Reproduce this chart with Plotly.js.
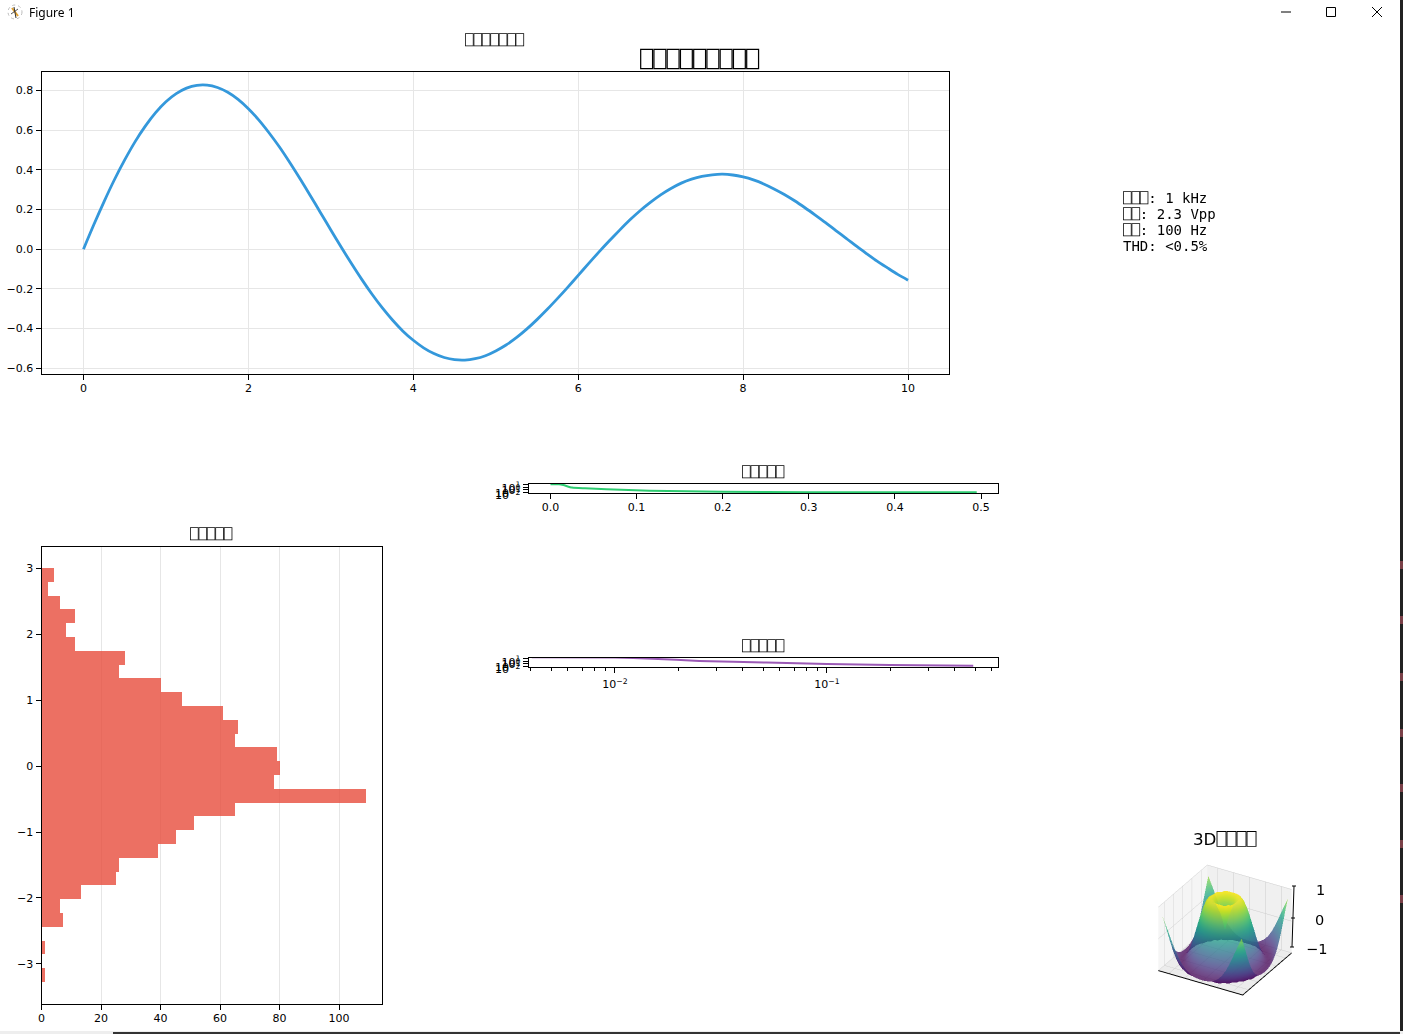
<!DOCTYPE html>
<html><head><meta charset="utf-8">
<script src="https://cdn.plot.ly/plotly-3.0.1.min.js"></script>
<style>html,body{margin:0;padding:0;background:#fff;overflow:hidden}#g{width:1403px;height:1034px}</style>
</head><body><div id="g"></div>
<script>
// Waveform
const waveX=[0,0.125,0.25,0.375,0.5,0.625,0.75,0.875,1,1.125,1.25,1.375,1.5,1.625,1.75,1.875,2,2.125,2.25,2.375,2.5,2.625,2.75,2.875,3,3.125,3.25,3.375,3.5,3.625,3.75,3.875,4,4.125,4.25,4.375,4.5,4.625,4.75,4.875,5,5.125,5.25,5.375,5.5,5.625,5.75,5.875,6,6.125,6.25,6.375,6.5,6.625,6.75,6.875,7,7.125,7.25,7.375,7.5,7.625,7.75,7.875,8,8.125,8.25,8.375,8.5,8.625,8.75,8.875,9,9.125,9.25,9.375,9.5,9.625,9.75,9.875,10];
const waveY=[0,0.123,0.24,0.35,0.45,0.541,0.62,0.688,0.743,0.784,0.812,0.826,0.827,0.815,0.791,0.755,0.708,0.652,0.587,0.516,0.438,0.356,0.271,0.184,0.097,0.011,-0.072,-0.152,-0.227,-0.296,-0.358,-0.413,-0.459,-0.497,-0.526,-0.546,-0.557,-0.559,-0.552,-0.537,-0.513,-0.483,-0.446,-0.403,-0.355,-0.303,-0.248,-0.191,-0.132,-0.073,-0.015,0.041,0.095,0.147,0.194,0.236,0.274,0.306,0.333,0.353,0.367,0.375,0.378,0.374,0.364,0.349,0.329,0.304,0.276,0.244,0.209,0.172,0.134,0.094,0.055,0.015,-0.023,-0.06,-0.094,-0.127,-0.156];
// Spectrum
const specF=[0,0.01,0.015,0.025,0.04,0.065,0.115,0.2,0.3,0.4,0.495];
const specA=[15,17,8,0.8,0.4,0.19,0.052,0.021,0.013,0.0115,0.0115];
// Low-frequency log plot
const bodeF=[0.00405,0.01,0.015,0.025,0.052,0.1,0.198,0.49];
const bodeA=[40,33,11.4,1.5,0.32,0.1,0.038,0.021];
// Histogram
const binCenters=[2.90735,2.69805,2.48875,2.27945,2.07015,1.86085,1.65155,1.44225,1.23295,1.02365,0.81435,0.60505,0.39575,0.18645,-0.02285,-0.23215,-0.44145,-0.65075,-0.86005,-1.06935,-1.27865,-1.48795,-1.69725,-1.90655,-2.11585,-2.32515,-2.53445,-2.74375,-2.95305,-3.16235];
const binCounts=[4,2,6,11,8,11,28,26,40,47,61,66,65,79,80,78,109,65,51,45,39,26,25,13,6,7,0,1,0,1];
// Surface
const surfAxis=[-5,-4.5,-4,-3.5,-3,-2.5,-2,-1.5,-1,-0.5,0,0.5,1,1.5,2,2.5,3,3.5,4,4.5,5];
const surfZ=[
[.71,.43,.12,-.18,-.44,-.64,-.78,-.87,-.93,-.95,-.96,-.95,-.93,-.87,-.78,-.64,-.44,-.18,.12,.43,.71],
[.43,.08,-.26,-.55,-.77,-.91,-.98,-1,-.99,-.98,-.98,-.98,-.99,-1,-.98,-.91,-.77,-.55,-.26,.08,.43],
[.12,-.26,-.59,-.83,-.96,-1,-.97,-.91,-.83,-.78,-.76,-.78,-.83,-.91,-.97,-1,-.96,-.83,-.59,-.26,.12],
[-.18,-.55,-.83,-.97,-.99,-.92,-.78,-.62,-.48,-.38,-.35,-.38,-.48,-.62,-.78,-.92,-.99,-.97,-.83,-.55,-.18],
[-.44,-.77,-.96,-.99,-.89,-.69,-.45,-.21,-.02,.1,.14,.1,-.02,-.21,-.45,-.69,-.89,-.99,-.96,-.77,-.44],
[-.64,-.91,-1,-.92,-.69,-.38,-.06,.22,.43,.56,.6,.56,.43,.22,-.06,-.38,-.69,-.92,-1,-.91,-.64],
[-.78,-.98,-.97,-.78,-.45,-.06,.31,.6,.79,.88,.91,.88,.79,.6,.31,-.06,-.45,-.78,-.97,-.98,-.78],
[-.87,-1,-.91,-.62,-.21,.22,.6,.85,.97,1,1,1,.97,.85,.6,.22,-.21,-.62,-.91,-1,-.87],
[-.93,-.99,-.83,-.48,-.02,.43,.79,.97,.99,.9,.84,.9,.99,.97,.79,.43,-.02,-.48,-.83,-.99,-.93],
[-.95,-.98,-.78,-.38,.1,.56,.88,1,.9,.65,.48,.65,.9,1,.88,.56,.1,-.38,-.78,-.98,-.95],
[-.96,-.98,-.76,-.35,.14,.6,.91,1,.84,.48,0,.48,.84,1,.91,.6,.14,-.35,-.76,-.98,-.96],
[-.95,-.98,-.78,-.38,.1,.56,.88,1,.9,.65,.48,.65,.9,1,.88,.56,.1,-.38,-.78,-.98,-.95],
[-.93,-.99,-.83,-.48,-.02,.43,.79,.97,.99,.9,.84,.9,.99,.97,.79,.43,-.02,-.48,-.83,-.99,-.93],
[-.87,-1,-.91,-.62,-.21,.22,.6,.85,.97,1,1,1,.97,.85,.6,.22,-.21,-.62,-.91,-1,-.87],
[-.78,-.98,-.97,-.78,-.45,-.06,.31,.6,.79,.88,.91,.88,.79,.6,.31,-.06,-.45,-.78,-.97,-.98,-.78],
[-.64,-.91,-1,-.92,-.69,-.38,-.06,.22,.43,.56,.6,.56,.43,.22,-.06,-.38,-.69,-.92,-1,-.91,-.64],
[-.44,-.77,-.96,-.99,-.89,-.69,-.45,-.21,-.02,.1,.14,.1,-.02,-.21,-.45,-.69,-.89,-.99,-.96,-.77,-.44],
[-.18,-.55,-.83,-.97,-.99,-.92,-.78,-.62,-.48,-.38,-.35,-.38,-.48,-.62,-.78,-.92,-.99,-.97,-.83,-.55,-.18],
[.12,-.26,-.59,-.83,-.96,-1,-.97,-.91,-.83,-.78,-.76,-.78,-.83,-.91,-.97,-1,-.96,-.83,-.59,-.26,.12],
[.43,.08,-.26,-.55,-.77,-.91,-.98,-1,-.99,-.98,-.98,-.98,-.99,-1,-.98,-.91,-.77,-.55,-.26,.08,.43],
[.71,.43,.12,-.18,-.44,-.64,-.78,-.87,-.93,-.95,-.96,-.95,-.93,-.87,-.78,-.64,-.44,-.18,.12,.43,.71]];
// Text: the reference shows empty boxes where its glyphs were missing
const B='⎕';
const titleFig=B.repeat(9), titleWave=B.repeat(7), titleSpec=B.repeat(5), titleBode=B.repeat(5), titleHist=B.repeat(5);
const title3d='3D<span style="font-family:\'DejaVu Sans Mono\'">'+B.repeat(4)+'</span>';
const infoLines=[B+B+B+': 1 kHz',B+B+': 2.3 Vpp',B+B+': 100 Hz','THD: <0.5%'];
const logTickVals=[10,1,0.1,0.01], logTickText=['10<sup>1</sup>','10<sup>0</sup>','10<sup>−1</sup>','10<sup>−2</sup>'];
const zTickLabels=['1','0','−1'];

const W=1403,H=1034,px=x=>x/W,py=y=>1-y/H;
const dom=(a,b)=>[px(a),px(b)], domY=(top,bot)=>[py(bot),py(top)];
const tf={family:'DejaVu Sans',size:11,color:'#000'};
const base={showline:true,mirror:true,linecolor:'#000',linewidth:1,ticks:'outside',ticklen:5,tickwidth:1,tickcolor:'#000',tickfont:tf,zeroline:false,showgrid:false,automargin:false};
const grid={showgrid:true,gridcolor:'#e6e6e6',gridwidth:1};

const traces=[
 {type:'scatter',mode:'lines',x:waveX,y:waveY,xaxis:'x',yaxis:'y',line:{color:'#3498db',width:2.8,shape:'spline',smoothing:0.8}},
 {type:'scatter',mode:'lines',x:specF,y:specA,xaxis:'x2',yaxis:'y2',line:{color:'#2ecc71',width:2,shape:'spline',smoothing:0.5}},
 {type:'scatter',mode:'lines',x:bodeF,y:bodeA,xaxis:'x3',yaxis:'y3',line:{color:'#9b59b6',width:2,shape:'spline',smoothing:0.5}},
 {type:'bar',orientation:'h',x:binCounts,y:binCenters,width:0.2093,xaxis:'x4',yaxis:'y4',marker:{color:'rgba(231,76,60,0.8)',line:{width:0}}},
 {type:'surface',x:surfAxis,y:surfAxis,z:surfZ,scene:'scene',colorscale:'Viridis',showscale:false,opacity:.75,cmin:-1,cmax:1,
  lighting:{ambient:1,diffuse:.1,specular:0,roughness:1,fresnel:0},hoverinfo:'skip',contours:{x:{highlight:false},y:{highlight:false},z:{highlight:false}}}
];
const mono={family:'DejaVu Sans Mono',color:'#000'};
const ann=(text,x,y,size,opt={})=>Object.assign({text,xref:'paper',yref:'paper',x:px(x),y:py(y),xanchor:'center',yanchor:'middle',showarrow:false,font:Object.assign({},mono,{size})},opt);
const sans=size=>({family:'DejaVu Sans',size,color:'#000'});
const annotations=[
 ann(titleFig,699.5,59,22),ann(titleWave,495,40,14),ann(titleSpec,763,472,14),ann(titleBode,763,646,14),ann(titleHist,211,534,14),
 ann(title3d,1225,839,16.7,{font:sans(16.7)}),
 ann('Figure 1',27,12.5,12,{xanchor:'left',font:{family:'Noto Sans',size:12,color:'#000'}}),
 ann(zTickLabels[0],1320,890,14.5,{font:sans(14.5)}),ann(zTickLabels[1],1319,920,14.5,{font:sans(14.5)}),ann(zTickLabels[2],1316,949,14.5,{font:sans(14.5)})
];
infoLines.forEach((t,i)=>annotations.push(ann(t,1121,198+16*i,14,{xanchor:'left'})));
const rect=(x0,y0,x1,y1,c)=>({type:'rect',xref:'paper',yref:'paper',x0:px(x0),x1:px(x1),y0:py(y0),y1:py(y1),fillcolor:c,line:{width:0},layer:'above'});
const seg=(x0,y0,x1,y1,c='#000',w=1)=>({type:'line',xref:'paper',yref:'paper',x0:px(x0),x1:px(x1),y0:py(y0),y1:py(y1),line:{color:c,width:w},layer:'above'});
const shapes=[
 rect(1400,0,1403,1034,'#222222'),rect(0,1031,1403,1034,'#eeeeee'),rect(113,1032,1400,1034,'#333333'),
 seg(1281,12,1291,12),
 {type:'rect',xref:'paper',yref:'paper',x0:px(1326.5),x1:px(1335.5),y0:py(7.5),y1:py(16.5),line:{color:'#000',width:1},layer:'above'},
 seg(1372,7,1382,17),seg(1382,7,1372,17),
 {type:'circle',xref:'paper',yref:'paper',x0:px(8),x1:px(22),y0:py(5),y1:py(19),line:{color:'#bbbbbb',width:1,dash:'dot'},layer:'above'},
 seg(12,8,18,16,'#e0a030',2),seg(18,9,11,14,'#555555',1),seg(14,7,16,18,'#333333',1),
 seg(1294,886,1292,947),seg(1292,886,1296,886),seg(1291,918,1295,918),seg(1290,947,1294,947)
];
[565,620,677,733,788,844,899].forEach(y=>shapes.push(rect(1400,y-4,1403,y+4,'#7a4048')));

const layout={width:W,height:H,margin:{l:0,r:0,t:0,b:0},paper_bgcolor:'#fff',plot_bgcolor:'#fff',showlegend:false,hovermode:false,bargap:0,annotations,shapes,
 xaxis:Object.assign({},base,grid,{domain:dom(41.5,949),range:[-0.509,10.497],tickvals:[0,2,4,6,8,10],ticklabelstandoff:-1,anchor:'y'}),
 yaxis:Object.assign({},base,grid,{domain:domY(71.5,374),range:[-0.629,0.8956],tickvals:[-0.6,-0.4,-0.2,0,0.2,0.4,0.6,0.8],tickformat:'.1f',anchor:'x'}),
 xaxis2:Object.assign({},base,{domain:dom(528.5,998),range:[-0.0255,0.5197],tickvals:[0,0.1,0.2,0.3,0.4,0.5],tickformat:'.1f',ticklabelstandoff:-1,anchor:'y2'}),
 yaxis2:Object.assign({},base,{domain:domY(483.5,493),type:'log',range:[-2.2,1.5],tickvals:logTickVals,ticktext:logTickText,ticklabelshift:3,anchor:'x2'}),
 xaxis3:Object.assign({},base,{domain:dom(528.5,998),type:'log',range:[-2.408,-0.193],tickvals:[0.01,0.1],ticktext:['10<sup>−2</sup>','10<sup>−1</sup>'],ticklabelstandoff:2,anchor:'y3',
   minor:{ticks:'outside',ticklen:3,tickwidth:1,tickcolor:'#000',tickvals:[.004,.005,.006,.007,.008,.009,.02,.03,.04,.05,.06,.07,.08,.09,.2,.3,.4,.5,.6]}}),
 yaxis3:Object.assign({},base,{domain:domY(657.5,667),type:'log',range:[-2.2,1.5],tickvals:logTickVals,ticktext:logTickText,ticklabelshift:3,anchor:'x3'}),
 xaxis4:Object.assign({},base,grid,{domain:dom(41.5,382),range:[0,114.45],tickvals:[0,20,40,60,80,100],ticklabelstandoff:-1,anchor:'y4'}),
 yaxis4:Object.assign({},base,{domain:domY(546.5,1003.5),range:[-3.6,3.33],tickvals:[-3,-2,-1,0,1,2,3],anchor:'x4'}),
 scene:{domain:{x:dom(1140,1310),y:domY(850,1010)},aspectmode:'manual',aspectratio:{x:1.22,y:1.22,z:0.915},hovermode:false,
  camera:{eye:{x:0.87,y:-1.5,z:1.0},center:{x:0,y:0,z:0},up:{x:0,y:0,z:1},projection:{type:'orthographic'}},
  xaxis:{title:{text:''},showticklabels:false,ticks:'',showgrid:true,gridcolor:'#cccccc',showbackground:true,backgroundcolor:'#f5f5f5',showspikes:false,zeroline:false,showline:true,linecolor:'#000',linewidth:2,tickvals:[-4,-2,0,2,4]},
  yaxis:{title:{text:''},showticklabels:false,ticks:'',showgrid:true,gridcolor:'#cccccc',showbackground:true,backgroundcolor:'#f0f0f0',showspikes:false,zeroline:false,showline:true,linecolor:'#000',linewidth:2,tickvals:[-4,-2,0,2,4]},
  zaxis:{title:{text:''},range:[-1,1],tickvals:[-1,0,1],showticklabels:false,ticks:'',showgrid:true,gridcolor:'#cccccc',showbackground:true,backgroundcolor:'#ececec',showspikes:false,zeroline:false,showline:false}}
};
Plotly.newPlot('g',traces,layout,{displayModeBar:false});
</script></body></html>
